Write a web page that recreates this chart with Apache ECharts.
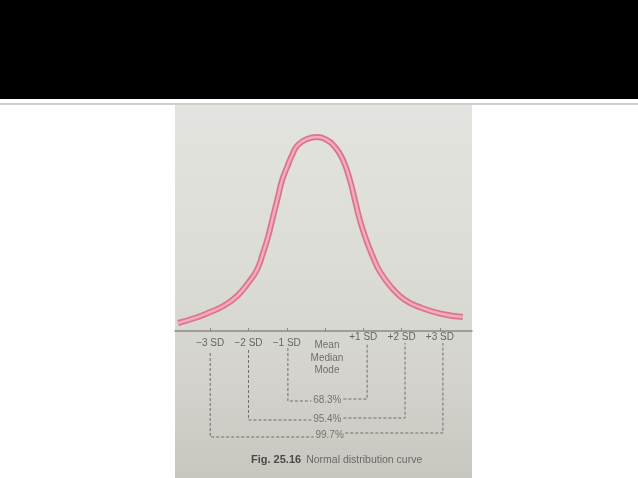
<!DOCTYPE html>
<html>
<head>
<meta charset="utf-8">
<script src="https://cdn.jsdelivr.net/npm/echarts@6/dist/echarts.min.js"></script>
<style>
  html, body { margin: 0; padding: 0; width: 638px; height: 478px; background: #ffffff; overflow: hidden; }
  #band { position: absolute; left: 0; top: 0; width: 638px; height: 99px; background: #000; }
  #rule { position: absolute; left: 0; top: 103px; width: 638px; height: 2px; background: #cfcfcf; }
  #paper { position: absolute; left: 175px; top: 105px; width: 297px; height: 373px;
           background: linear-gradient(to bottom, #e3e3df 0%, #dcdcd7 45%, #d3d2cc 75%, #c7c6bf 100%); }
  #chart { position: absolute; left: 0; top: 0; width: 638px; height: 478px; }
</style>
</head>
<body>
<div id="band"></div>
<div id="rule"></div>
<div id="paper"></div>
<div id="chart"></div>
<script>
// Axis ticks (in SD units) and their labels
var sdTicks = [-3, -2, -1, 0, 1, 2, 3];
var sdLabelValues = [-3, -2, -1, 1, 2, 3];
var sdLabelText = ['\u22123 SD', '\u22122 SD', '\u22121 SD', '+1 SD', '+2 SD', '+3 SD'];
var sdLabelY = [-0.06, -0.06, -0.06, -0.03, -0.03, -0.03];

// Curve (x in SD units, y relative height)
var curveX = [-3.84, -3.40, -3.06, -2.61, -2.27, -2.01, -1.78, -1.62, -1.49, -1.36, -1.23, -1.12, -0.99, -0.86, -0.71, -0.47, -0.21, 0.00, 0.26, 0.47, 0.65, 0.78, 0.91, 1.05, 1.23, 1.44, 1.75, 2.09, 2.53, 3.06, 3.60];
var curveY = [0.040, 0.065, 0.090, 0.130, 0.180, 0.240, 0.305, 0.390, 0.470, 0.570, 0.670, 0.755, 0.820, 0.880, 0.930, 0.960, 0.970, 0.960, 0.920, 0.855, 0.755, 0.655, 0.555, 0.470, 0.380, 0.295, 0.215, 0.155, 0.115, 0.085, 0.070];

// Bracket annotations below the axis
var bracketNames = ['68.3%', '95.4%', '99.7%'];
var bracketLeftX = [-0.97, -2.00, -3.00];
var bracketRightX = [1.10, 2.09, 3.08];
var bracketTopLeftY = [-0.085, -0.095, -0.11];
var bracketTopRightY = [-0.06, -0.06, -0.06];
var bracketBottomLeftY = [-0.350, -0.445, -0.530];
var bracketBottomRightY = [-0.340, -0.435, -0.510];
var bracketTextLeftX = [-0.36, -0.36, -0.30];
var bracketTextRightX = [0.48, 0.48, 0.53];
var bracketTextX = [0.06, 0.06, 0.12];

var centerLabel = 'Mean\nMedian\nMode';
var centerLabelPos = [0.05, -0.135];

var caption = 'Fig. 25.16';
var captionRest = 'Normal distribution curve';

var curveData = curveX.map(function (x, i) { return [x, curveY[i]]; });

var dashStyle = { color: '#6f6f6c', width: 1, type: [3, 2] };
var font = 'Liberation Sans';
var series = [
  { type: 'line', data: curveData, smooth: 0.5, symbol: 'none', z: 5,
    lineStyle: { color: '#d9758c', width: 6, cap: 'butt' } },
  { type: 'line', data: curveData, smooth: 0.5, symbol: 'none', z: 6,
    lineStyle: { color: '#f4abbb', width: 2.5, cap: 'butt' } }
];
for (var i = 0; i < bracketNames.length; i++) {
  series.push({ type: 'line', symbol: 'none', lineStyle: dashStyle, silent: true,
    data: [[bracketLeftX[i], bracketTopLeftY[i]], [bracketLeftX[i], bracketBottomLeftY[i]], [bracketTextLeftX[i], bracketBottomLeftY[i]]] });
  series.push({ type: 'line', symbol: 'none', lineStyle: dashStyle, silent: true,
    data: [[bracketTextRightX[i], bracketBottomRightY[i]], [bracketRightX[i], bracketBottomRightY[i]], [bracketRightX[i], bracketTopRightY[i]]] });
  series.push({ type: 'scatter', symbolSize: 0, silent: true,
    data: [{ name: bracketNames[i], value: [bracketTextX[i], (bracketBottomLeftY[i] + bracketBottomRightY[i]) / 2] }],
    label: { show: true, position: 'inside', formatter: '{b}', color: '#5c5c5a', fontSize: 10, fontFamily: font } });
}
series.push({ type: 'scatter', symbolSize: 0, silent: true,
  data: [{ name: centerLabel, value: centerLabelPos }],
  label: { show: true, position: 'inside', formatter: '{b}', color: '#555553', fontSize: 10, lineHeight: 12.5, fontFamily: font } });
series.push({ type: 'scatter', symbolSize: 0, silent: true,
  data: sdLabelValues.map(function (v, i) { return { name: sdLabelText[i], value: [v, sdLabelY[i]] }; }),
  label: { show: true, position: 'inside', formatter: '{b}', color: '#474745', fontSize: 10, fontFamily: font } });

var chart = echarts.init(document.getElementById('chart'), null, { renderer: 'canvas' });
chart.setOption({
  backgroundColor: 'transparent',
  animation: false,
  title: {
    text: '{b|' + caption + '} {n|' + captionRest + '}',
    left: 251, top: 451, padding: 0,
    textStyle: { fontWeight: 'normal', rich: {
      b: { fontWeight: 'bold', fontSize: 11, color: '#4a4a48', fontFamily: font },
      n: { fontWeight: 'normal', fontSize: 10.5, color: '#6a6a67', fontFamily: font }
    } }
  },
  grid: { left: 175, right: 166, top: 131, bottom: 7, containLabel: false, outerBoundsMode: 'none' },
  xAxis: {
    type: 'value', min: -3.92, max: 3.84,
    splitLine: { show: false },
    axisLine: { onZero: true, lineStyle: { color: '#8a8a86', width: 1.5 } },
    axisTick: { show: true, inside: true, length: 3, customValues: sdTicks, lineStyle: { color: '#8a8a86' } },
    axisLabel: { show: false }
  },
  yAxis: { type: 'value', min: -0.7, max: 1.0, show: false, splitLine: { show: false } },
  series: series
});
</script>
</body>
</html>
